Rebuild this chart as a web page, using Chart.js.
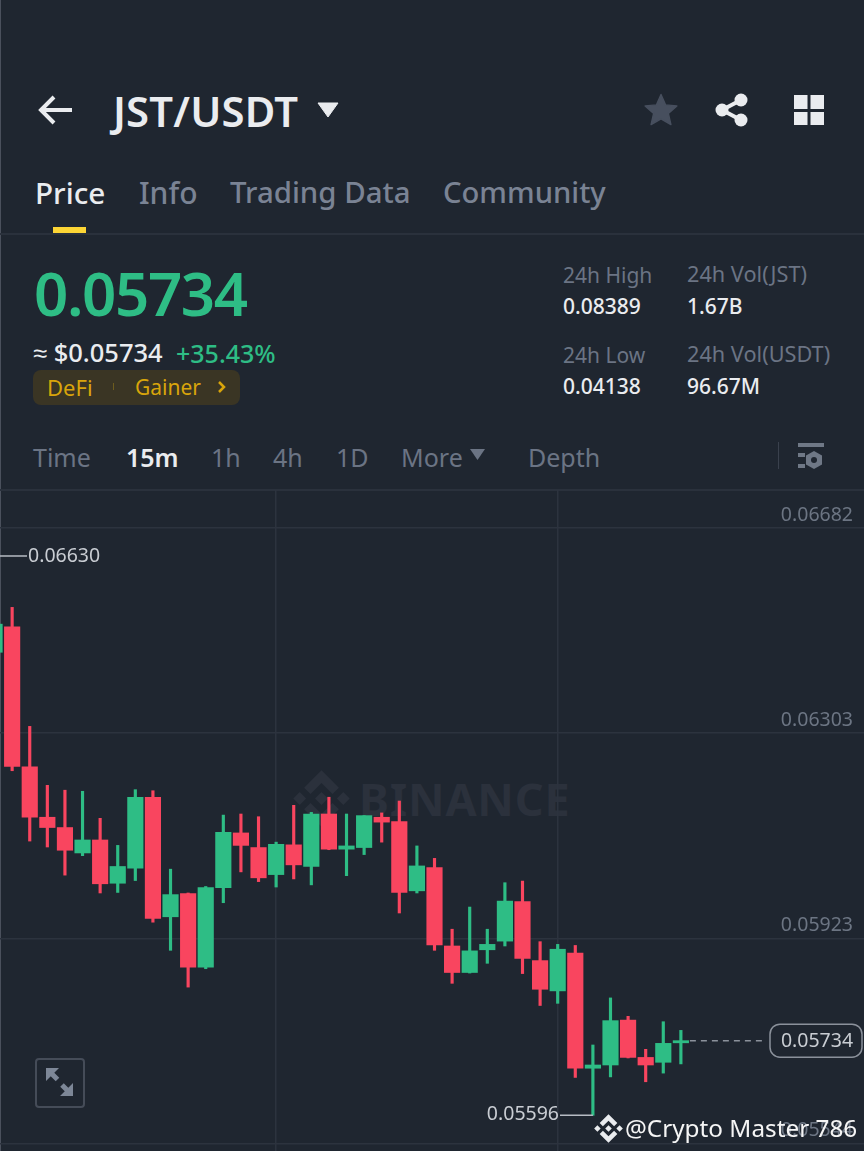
<!DOCTYPE html>
<html>
<head>
<meta charset="utf-8">
<script src="https://cdn.jsdelivr.net/npm/chart.js@4"></script>
<style>
  html, body { margin: 0; padding: 0; background: #1f2630; }
  body { position: relative; width: 864px; height: 1151px; overflow: hidden; font-family: "Noto Sans", sans-serif; }
  .t { position: absolute; white-space: nowrap; line-height: 1; transform: translateY(-50%); }
  .grey { color: #7a8394; }
  .dim { color: #6b7484; }
  .white { color: #eaecef; }
  .hr { position: absolute; left: 0; width: 864px; height: 2px; background: #2a313c; }
  svg { position: absolute; }
  canvas { position: absolute; left: 0; top: 490px; }
</style>
</head>
<body>
<div style="position:absolute;left:0;top:0;width:1px;height:1151px;background:#4a505c"></div>

<!-- header -->
<svg style="left:38px;top:94px" width="36" height="32" viewBox="0 0 36 32"><path d="M34 16H4M16 3L3 16l13 13" fill="none" stroke="#eaecef" stroke-width="4"/></svg>
<div class="t white" style="left:113px;top:111px;font-size:41.800px;font-weight:600;letter-spacing:.2px">JST/USDT</div>
<svg style="left:317px;top:102px" width="22" height="16"><path d="M1 1h20L11 15z" fill="#eaecef" stroke="#eaecef" stroke-linejoin="round"/></svg>
<svg style="left:644px;top:93px" width="34" height="34" viewBox="0 0 24 24"><path d="M12 1l3.2 7.4 8 .7-6 5.300 1.800 7.900L12 18.200 5 22.300l1.800-7.900-6-5.300 8-.7z" fill="#474f5e" stroke="#474f5e" stroke-linejoin="round"/></svg>
<svg style="left:714px;top:92px" width="36" height="36" viewBox="0 0 36 36"><path d="M27 8L8 18l19 10" fill="none" stroke="#eaecef" stroke-width="4"/><circle cx="27" cy="8" r="6.500" fill="#eaecef"/><circle cx="8" cy="18" r="6.500" fill="#eaecef"/><circle cx="27" cy="28" r="6.500" fill="#eaecef"/></svg>
<svg style="left:794px;top:95px" width="30" height="30"><path d="M0 0h13.500v14H0zM16.500 0H30v14H16.500zM0 17h13.500v13H0zM16.500 17H30v13H16.500z" fill="#eaecef"/></svg>

<!-- tabs -->
<div class="t white" style="left:35px;top:193px;font-size:29.700px;font-weight:500">Price</div>
<div class="t grey" style="left:139px;top:193px;font-size:30px;font-weight:500">Info</div>
<div class="t grey" style="left:230px;top:193px;font-size:29.400px;font-weight:500">Trading Data</div>
<div class="t grey" style="left:443px;top:193px;font-size:29.200px;font-weight:500">Community</div>
<div style="position:absolute;left:53px;top:227px;width:33px;height:6px;background:#fcd535"></div>
<div class="hr" style="top:233px"></div>

<!-- price block -->
<div class="t" style="left:34px;top:293px;font-size:60px;font-weight:600;color:#2ebd85;letter-spacing:-1.400px">0.05734</div>
<div class="t white" style="left:33px;top:353px;font-size:25.500px;font-weight:500">≈ $0.05734</div>
<div class="t" style="left:176px;top:353px;font-size:25px;font-weight:500;color:#2ebd85">+35.43%</div>
<div style="position:absolute;left:33px;top:370px;width:207px;height:35px;background:#3a3524;border-radius:8px"></div>
<div class="t" style="left:47px;top:387px;font-size:22px;color:#d9a50b">DeFi</div>
<div style="position:absolute;left:113px;top:383px;width:1px;height:7px;background:#6d5c1e"></div>
<div class="t" style="left:135px;top:387px;font-size:21px;color:#d9a50b">Gainer</div>
<svg style="left:217px;top:380px" width="11" height="14"><path d="M2 2l5 5-5 5" fill="none" stroke="#d9a50b" stroke-width="2.500"/></svg>

<div class="t dim" style="left:563px;top:275px;font-size:21px">24h High</div>
<div class="t white" style="left:563px;top:306px;font-size:21px;font-weight:500">0.08389</div>
<div class="t dim" style="left:687px;top:274px;font-size:21.700px">24h Vol(JST)</div>
<div class="t white" style="left:687px;top:306px;font-size:21px;font-weight:500">1.67B</div>
<div class="t dim" style="left:563px;top:355px;font-size:21px">24h Low</div>
<div class="t white" style="left:563px;top:386px;font-size:21px;font-weight:500">0.04138</div>
<div class="t dim" style="left:687px;top:354px;font-size:21.700px">24h Vol(USDT)</div>
<div class="t white" style="left:687px;top:386px;font-size:21px;font-weight:500">96.67M</div>

<!-- interval bar -->
<div class="t dim" style="left:33px;top:457px;font-size:25px">Time</div>
<div class="t white" style="left:126px;top:457px;font-size:25px;font-weight:600">15m</div>
<div class="t dim" style="left:211px;top:457px;font-size:25px">1h</div>
<div class="t dim" style="left:273px;top:457px;font-size:25px">4h</div>
<div class="t dim" style="left:336px;top:457px;font-size:25px">1D</div>
<div class="t dim" style="left:401px;top:457px;font-size:25px">More</div>
<svg style="left:470px;top:449px" width="15" height="11"><path d="M0 0h15L7.500 11z" fill="#6b7484"/></svg>
<div class="t dim" style="left:528px;top:457px;font-size:25px">Depth</div>
<div style="position:absolute;left:778px;top:442px;width:1px;height:27px;background:#3a414d"></div>
<svg style="left:797px;top:442px" width="28" height="28"><path d="M1 1h26v4H1zM1 11h7v4H1zM1 22h7v4H1z" fill="#6f7886"/><path d="M17 9l8 4.500v9L17 27l-8-4.500v-9z" fill="#6f7886"/><circle cx="17" cy="18" r="3" fill="#1f2630"/></svg>
<div class="hr" style="top:489px"></div>

<!-- watermark behind the chart -->
<svg style="left:293px;top:770px" width="57" height="57" viewBox="0 0 126 126"><path fill="#2b313c" d="M38.730 53.200L63 28.930 87.280 53.210 101.400 39.090 63 .69 24.610 39.080zM.69 63l14.120-14.120L28.930 63 14.810 77.120zM38.730 72.800L63 97.070 87.280 72.790 101.400 86.900 63 125.310 24.610 86.920zM97.070 63l14.120-14.120L125.310 63l-14.120 14.120zM77.320 63L63 48.680 48.680 63 63 77.320z"/></svg>
<div class="t" style="left:359px;top:798px;font-size:45px;font-weight:700;color:#2b313c;letter-spacing:.8px">BINANCE</div>

<canvas id="kline" width="864" height="661"></canvas>

<!-- expand button -->
<div style="position:absolute;left:35px;top:1058px;width:46px;height:46px;border:2px solid #454c58;border-radius:4px"></div>
<svg style="left:44px;top:1067px" width="30" height="30"><path d="M2 1h13L2 14zM29 29H16l13-13z" fill="#7d8797"/><path d="M7 6l6.500 6.500M18 18l6 6" stroke="#7d8797" stroke-width="5"/></svg>

<!-- uploader tag -->
<svg style="left:594px;top:1114px" width="29" height="29" viewBox="0 0 126 126"><path fill="#eaecef" d="M38.730 53.200L63 28.930 87.280 53.210 101.400 39.090 63 .69 24.610 39.080zM.69 63l14.120-14.120L28.930 63 14.810 77.120zM38.730 72.800L63 97.070 87.280 72.790 101.400 86.900 63 125.310 24.610 86.920zM97.070 63l14.120-14.120L125.310 63l-14.120 14.120zM77.320 63L63 48.680 48.680 63 63 77.320z"/></svg>
<div class="t" style="left:625px;top:1128px;font-size:24.300px;color:#f5f5f5">@Crypto Master 786</div>

<script>
// 15m candles, oldest first. The first one is cut off by the left edge.
const opens = [0.06452, 0.06499, 0.06240, 0.06147, 0.06128, 0.06081, 0.06105, 0.06025, 0.06053, 0.06184,
  0.05963, 0.06006, 0.05870, 0.06017, 0.06118, 0.06091, 0.06041, 0.06096, 0.06056, 0.06153,
  0.06088, 0.06091, 0.06147, 0.06139, 0.06011, 0.06054, 0.05909, 0.05860, 0.05902, 0.05918,
  0.05991, 0.05882, 0.05826, 0.05896, 0.05683, 0.05689, 0.05772, 0.05703, 0.05694, 0.05730];
const highs = [0.06510, 0.06535, 0.06315, 0.06206, 0.06197, 0.06195, 0.06145, 0.06095, 0.06198, 0.06196,
  0.06051, 0.06007, 0.06019, 0.06151, 0.06153, 0.06148, 0.06101, 0.06169, 0.06156, 0.06184,
  0.06153, 0.06150, 0.06155, 0.06177, 0.06094, 0.06071, 0.05940, 0.05981, 0.05940, 0.06026,
  0.06029, 0.05917, 0.05912, 0.05910, 0.05726, 0.05813, 0.05779, 0.05718, 0.05769, 0.05753];
const lows = [0.06446, 0.06233, 0.06103, 0.06092, 0.06040, 0.06076, 0.06007, 0.06008, 0.06030, 0.05953,
  0.05901, 0.05833, 0.05867, 0.05989, 0.06046, 0.06028, 0.06018, 0.06033, 0.06022, 0.06087,
  0.06039, 0.06078, 0.06101, 0.05970, 0.06007, 0.05901, 0.05840, 0.05859, 0.05877, 0.05909,
  0.05858, 0.05799, 0.05803, 0.05666, 0.05596, 0.05667, 0.05702, 0.05658, 0.05674, 0.05691];
const closes = [0.06504, 0.06241, 0.06147, 0.06128, 0.06086, 0.06105, 0.06024, 0.06056, 0.06184, 0.05960,
  0.06004, 0.05870, 0.06017, 0.06119, 0.06095, 0.06035, 0.06097, 0.06059, 0.06153, 0.06088,
  0.06094, 0.06150, 0.06138, 0.06008, 0.06057, 0.05911, 0.05860, 0.05900, 0.05912, 0.05992,
  0.05886, 0.05829, 0.05903, 0.05683, 0.05689, 0.05771, 0.05703, 0.05689, 0.05729, 0.05734];
const priceTicks = [0.06682, 0.06303, 0.05923, 0.05544];
const timeTicks = [16, 32];
const visibleHigh = 0.06630;
const visibleLow = 0.05596;
const lastPrice = 0.05734;

const UP = '#2ebd85';
const DOWN = '#f9455f';
const colors = closes.map((c, i) => c >= opens[i] ? UP : DOWN);

// high/low marks and the current price tag
const priceMarks = {
  id: 'priceMarks',
  afterDatasetsDraw(chart) {
    const { ctx, scales: { x, y } } = chart;
    ctx.save();
    ctx.font = '19.500px "Noto Sans", sans-serif';
    ctx.textBaseline = 'middle';

    ctx.strokeStyle = '#b7bcc4';
    ctx.fillStyle = '#c9cdd3';
    ctx.lineWidth = 1.5;
    const yHigh = y.getPixelForValue(visibleHigh);
    ctx.beginPath(); ctx.moveTo(0, yHigh); ctx.lineTo(27, yHigh); ctx.stroke();
    ctx.textAlign = 'left';
    ctx.fillText(visibleHigh.toFixed(5), 28, yHigh);

    const iLow = lows.indexOf(visibleLow);
    const yLow = y.getPixelForValue(visibleLow);
    const xLow = x.getPixelForValue(iLow);
    ctx.beginPath(); ctx.moveTo(560, yLow); ctx.lineTo(xLow, yLow); ctx.stroke();
    ctx.textAlign = 'right';
    ctx.fillText(visibleLow.toFixed(5), 559, yLow - 1);

    const yLast = y.getPixelForValue(lastPrice);
    ctx.strokeStyle = '#8b919b';
    ctx.setLineDash([6, 5]);
    ctx.beginPath(); ctx.moveTo(x.getPixelForValue(closes.length - 1) + 9, yLast); ctx.lineTo(765, yLast); ctx.stroke();
    ctx.setLineDash([]);
    ctx.fillStyle = '#1f2630';
    ctx.strokeStyle = '#8b919b';
    ctx.beginPath();
    ctx.roundRect(770, yLast - 16.500, 92, 33, 10);
    ctx.fill();
    ctx.stroke();
    ctx.fillStyle = '#c9cdd3';
    ctx.textAlign = 'center';
    ctx.fillText(lastPrice.toFixed(5), 817, yLast + 0.500);
    ctx.restore();
  },
};

Chart.defaults.font.family = '"Noto Sans", sans-serif';

new Chart(document.getElementById('kline'), {
  type: 'bar',
  data: {
    datasets: [
      // candle body
      {
        data: opens.map((o, i) => ({ x: i, y: [o, closes[i]] })),
        backgroundColor: colors,
        barThickness: 15.500,
        grouped: false,
        order: 1,
      },
      // wick
      {
        data: lows.map((l, i) => ({ x: i, y: [l, highs[i]] })),
        backgroundColor: colors,
        barThickness: 2.500,
        grouped: false,
        order: 2,
      },
    ],
  },
  options: {
    responsive: false,
    animation: false,
    events: [],
    layout: { padding: 0 },
    plugins: { legend: { display: false }, tooltip: { enabled: false } },
    scales: {
      x: {
        type: 'linear',
        offset: false,
        min: 0.310,
        max: 49.405,
        afterBuildTicks: s => { s.ticks = timeTicks.map(v => ({ value: v })); },
        ticks: { display: false },
        grid: { offset: false, color: '#2c333e', lineWidth: 1.500, drawTicks: false },
        border: { display: false },
      },
      y: {
        type: 'linear',
        position: 'right',
        min: 0.05530,
        max: 0.06752,
        // labels sit inside the plot, so the axis takes no room
        afterFit: s => { s.width = 0; s.paddingTop = 0; s.paddingBottom = 0; },
        afterBuildTicks: s => { s.ticks = priceTicks.map(v => ({ value: v })); },
        ticks: {
          mirror: true,
          padding: -11,
          autoSkip: false,
          color: '#6c7583',
          font: { size: 19.500, lineHeight: 1.300 },
          // empty second line lifts the label above its grid line
          callback: v => [v.toFixed(5), ''],
        },
        grid: { color: '#2c333e', lineWidth: 1.500, drawTicks: false },
        border: { display: false },
      },
    },
  },
  plugins: [priceMarks],
});
</script>
</body>
</html>
